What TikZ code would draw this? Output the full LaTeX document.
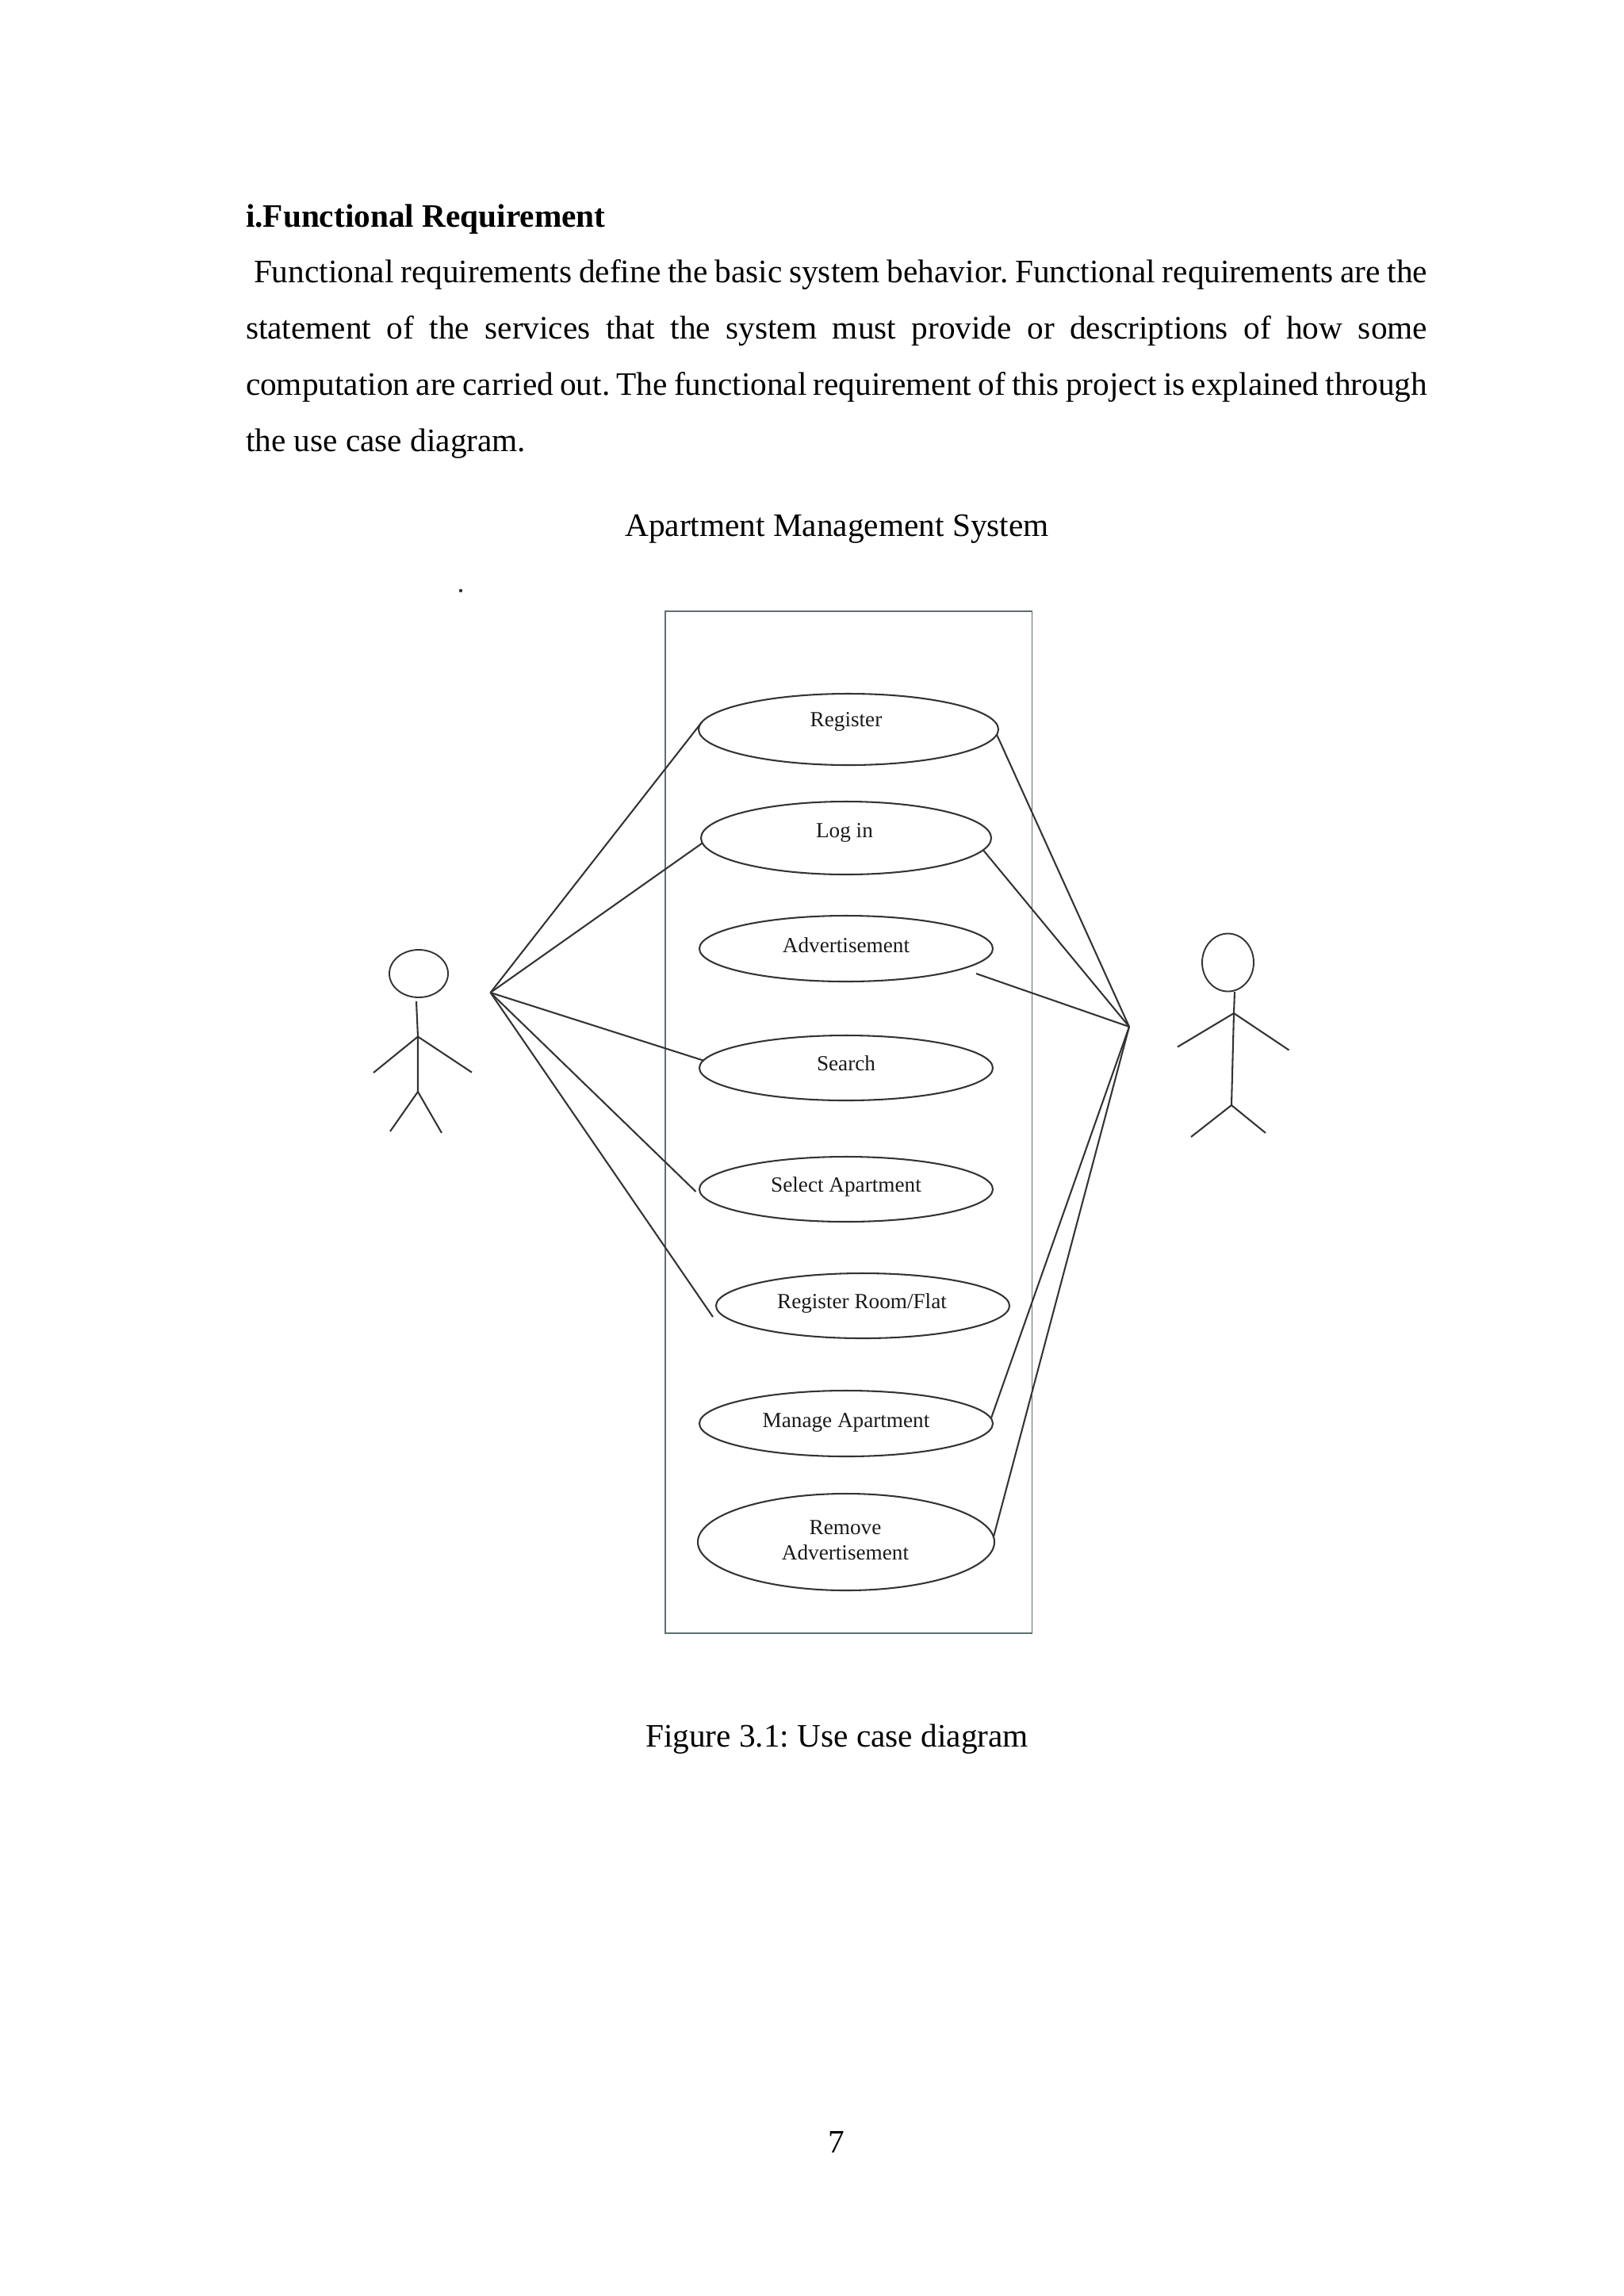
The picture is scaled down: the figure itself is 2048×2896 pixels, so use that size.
\documentclass[tikz,border=0pt]{standalone}
\usepackage{fontspec}
\usetikzlibrary{shapes.geometric}
\setmainfont{Liberation Serif}
\definecolor{inkline}{HTML}{333333}
\definecolor{framecol}{HTML}{5F6E74}
\definecolor{labelcol}{HTML}{1A1A1A}
\tikzset{
  x=0.2905pt,y=-0.2905pt,
  pagetext/.style={anchor=base west,inner sep=0pt,outer sep=0pt,font=\fontsize{12}{14}\selectfont,text=black},
  pagecentre/.style={anchor=base,inner sep=0pt,outer sep=0pt,font=\fontsize{12}{14}\selectfont,text=black},
  usecase/.style 2 args={ellipse,draw=inkline,line width=0.6pt,inner sep=0pt,outer sep=0pt,minimum width=#1*0.2905pt,minimum height=#2*0.2905pt},
  caselabel/.style={anchor=base,inner sep=0pt,outer sep=0pt,font=\fontsize{7.9}{9}\selectfont,text=labelcol},
  actorhead/.style 2 args={ellipse,draw=inkline,line width=0.55pt,inner sep=0pt,outer sep=0pt,minimum width=#1*0.2905pt,minimum height=#2*0.2905pt},
  link/.style={draw=inkline,line width=0.6pt},
  limb/.style={draw=inkline,line width=0.6pt},
  sysframe/.style={draw=framecol,line width=0.45pt,inner sep=0pt,outer sep=0pt,anchor=north west},
}
\newcommand{\fullline}[1]{\hbox to 432.85pt{\spaceskip=3pt plus 12pt minus 1.5pt\relax #1}}
\frenchspacing
\begin{document}
\begin{tikzpicture}
\useasboundingbox (0,0) rectangle (2048,2896);
\fill[white] (0,0) rectangle (2048,2896);

% page text
\node[pagetext] (heading) at (310,286) {\bfseries i.Functional Requirement};
\node[pagetext] (lineone) at (320,356) {\hbox to 429.95pt{\spaceskip=3pt plus 12pt minus 1.5pt\relax Functional requirements define the basic system behavior. Functional requirements are the}};
\node[pagetext] (linetwo) at (310,427) {\fullline{statement of the services that the system must provide or descriptions of how some}};
\node[pagetext] (linethree) at (310,498) {\fullline{computation are carried out. The functional requirement of this project is explained through}};
\node[pagetext] (linefour) at (310,569) {the use case diagram.};
\node[pagecentre] (title) at (1055.5,676) {Apartment Management System};
\node[pagecentre] (caption) at (1055.5,2203) {Figure 3.1: Use case diagram};
\node[pagecentre] (pageno) at (1055,2715) {7};

% stray dot
\fill[inkline] (581,745) circle (2.2);

% system frame
\node[sysframe,minimum width=134.4pt,minimum height=374.5pt] (system) at (839,771) {};

% use cases
\node[usecase={378}{90}] (ureg) at (1070,920) {};
\node[usecase={366}{92}] (ulog) at (1067,1057) {};
\node[usecase={370}{83}] (uadv) at (1067,1196.5) {};
\node[usecase={370}{82}] (usea) at (1067,1347) {};
\node[usecase={370}{82}] (usel) at (1067,1500) {};
\node[usecase={370}{82}] (uroom) at (1088,1647) {};
\node[usecase={370}{83}] (uman) at (1067,1795.5) {};
\node[usecase={374}{122}] (urem) at (1067,1945) {};

\node[caselabel] (lreg) at (1067,916) {Register};
\node[caselabel] (llog) at (1065,1056) {Log in};
\node[caselabel] (ladv) at (1067,1201.5) {Advertisement};
\node[caselabel] (lsea) at (1067,1350) {Search};
\node[caselabel] (lsel) at (1067,1503) {Select Apartment};
\node[caselabel] (lroom) at (1087,1650) {Register Room/Flat};
\node[caselabel] (lman) at (1067,1800.5) {Manage Apartment};
\node[caselabel] (lrema) at (1066,1935) {Remove};
\node[caselabel] (lremb) at (1066,1967.5) {Advertisement};

% left actor
\node[actorhead={74}{60}] (headL) at (528,1228) {};
\coordinate (neckL) at (525,1263);
\coordinate (shoulderL) at (527,1307.5);
\coordinate (hipL) at (527,1377);
\coordinate (armLa) at (471,1353);
\coordinate (armLb) at (595,1352.6);
\coordinate (legLa) at (492,1427);
\coordinate (legLb) at (557,1429);
\draw[limb] (neckL) -- (shoulderL) -- (hipL);
\draw[limb] (armLa) -- (shoulderL) -- (armLb);
\draw[limb] (legLa) -- (hipL) -- (legLb);

% right actor
\node[actorhead={65}{73}] (headR) at (1548.5,1214) {};
\coordinate (neckR) at (1557,1251);
\coordinate (shoulderR) at (1556,1278);
\coordinate (hipR) at (1553,1394);
\coordinate (armRa) at (1485,1320.5);
\coordinate (armRb) at (1625.5,1324.5);
\coordinate (legRa) at (1502,1434);
\coordinate (legRb) at (1596,1429);
\draw[limb] (neckR) -- (shoulderR) -- (hipR);
\draw[limb] (armRa) -- (shoulderR) -- (armRb);
\draw[limb] (legRa) -- (hipR) -- (legRb);

% connector hubs and free ends
\coordinate (hubL) at (618.5,1252);
\coordinate (hubR) at (1424,1295);
\coordinate (endsel) at (877.5,1503);
\coordinate (endroom) at (899,1661);
\coordinate (endadv) at (1231,1228);

\draw[link] (hubL) -- (ureg.177);
\draw[link] (hubL) -- (ulog.182);
\draw[link] (hubL) -- (usea.177);
\draw[link] (hubL) -- (endsel);
\draw[link] (hubL) -- (endroom);

\draw[link] (hubR) -- (ureg.358);
\draw[link] (hubR) -- (ulog.355);
\draw[link] (hubR) -- (endadv);
\draw[link] (hubR) -- (uman.2);
\draw[link] (hubR) -- (urem.2);
\end{tikzpicture}
\end{document}
